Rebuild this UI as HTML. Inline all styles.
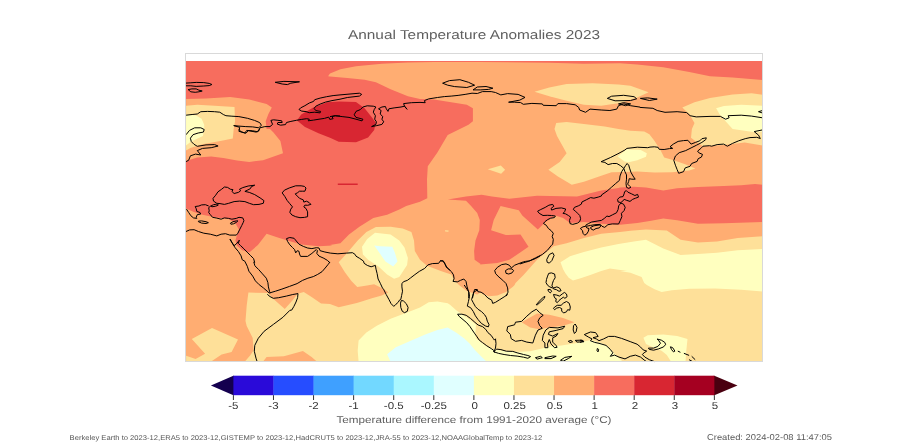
<!DOCTYPE html>
<html><head><meta charset="utf-8"><title>Annual Temperature Anomalies 2023</title>
<style>
html,body{margin:0;padding:0;background:#fff;}
body{width:924px;height:445px;overflow:hidden;position:relative;font-family:"Liberation Sans",sans-serif;}
svg{position:absolute;left:0;top:0;}
text{font-family:"Liberation Sans",sans-serif;fill:#5f5f5f;text-rendering:geometricPrecision;}
.ttl{font-size:12.9px;}
.tk{font-size:10px;fill:#333;}
.ax{font-size:9.8px;}
.ft{font-size:6.9px;fill:#555;}
.cr{font-size:8.5px;fill:#5a5a5a;}
</style></head><body>
<svg width="924" height="445" viewBox="0 0 924 445">
<rect x="186" y="61" width="576.5" height="300.5" fill="#ffad72"/>
<path d="M186 61 L762.5 61 L762.5 80 L732.6 77.6 L710 76.2 L689.3 71.9 L663.3 67.2 L637.3 64.5 L620 63.3 L583.9 63.8 L549.3 62.7 L480 62 L433.9 62 L407.9 62.4 L381.9 63.8 L356 66.2 L340.4 69.3 L330 73.6 L328.1 76.2 L330 76.6 L347.3 78 L364.6 79.7 L375.9 82.3 L390.6 89.2 L407.9 96.2 L420 99.1 L433.9 99.6 L451.2 102.2 L466.8 104.8 L472.9 108.3 L472.9 121.3 L468.5 124.7 L459.9 129.1 L447.7 135.1 L437.4 152.4 L427.8 166.2 L427 179.2 L427.3 198.3 L420 201.7 L406.2 206.1 L399.3 209.5 L387.1 214.7 L373.3 218.1 L359.4 226.8 L349 234.6 L340.4 243.2 L330 245 L332.4 245.5 L318.5 246.2 L301.2 244.4 L287.4 240.6 L277 237.2 L266.6 233.7 L257.9 245 L249.3 252.4 L242.3 250.2 L237.1 245.8 L235.4 240.6 L237.1 234.6 L238.9 229.4 L235.4 223.3 L228.5 219 L214.6 217.3 L202.5 214.7 L193.9 212.1 L186.1 208.6 L186 208.6Z" fill="#f76d5e"/>
<path d="M447.8 199.4 L466 196.5 L481.6 194.7 L491.9 196.5 L509.3 198.7 L537.1 195.7 L577 196.5 L601.2 190.5 L618.5 187.9 L620 187.5 L633.9 186.8 L646 187.4 L663.3 190.5 L677.1 188.2 L697.9 187 L723.9 186.1 L741.2 185.3 L755.1 184.1 L762.5 184.8 L762.5 221.9 L723.9 223.3 L697.9 223.7 L677.1 220.2 L663.3 218.5 L651.2 220.7 L637.3 223 L620 224.7 L601.2 223.8 L583.9 221.9 L570 223 L563.1 218.1 L555.3 215.5 L544.9 222.5 L537.8 229.4 L522.3 215.5 L518.8 210.3 L500.6 206 L493.7 219.9 L491.1 230.2 L505.8 235.1 L520.5 234.6 L528.5 246.7 L519.8 252.8 L509.4 259.7 L497.3 263.1 L480 264.5 L480.6 264 L474.6 259.7 L474.1 251 L475.5 240.6 L479.3 230.2 L479.8 219.9 L477.2 212.9 L471.1 206 L466 200.8Z" fill="#f76d5e"/>
<path d="M186.1 99.1 L206 98.4 L230.2 97 L249.3 99.6 L266.6 103.9 L271.8 107.4 L268.3 114.3 L265.7 121.3 L266.6 129.1 L270 129 L273.5 132.5 L280.4 141.1 L283 153.2 L263.1 160.2 L249.3 161.9 L237.1 160.5 L223.3 158.1 L211.2 156.4 L197.3 157.6 L186.1 161Z" fill="#ffad72"/>
<path d="M186.1 105.7 L197.3 104.8 L214.6 105.7 L234.5 107.1 L235.1 121.3 L233.7 129.1 L232.8 138.5 L221.6 140.8 L202.5 144.2 L190.4 148 L186.1 150.6Z" fill="#fee099"/>
<path d="M186.1 114.7 L195.6 115.2 L201.6 118.7 L204.2 124.7 L204.2 129.1 L202.9 135.9 L195.6 139.4 L190.4 142 L186.1 145.5Z" fill="#ffffbf"/>
<path d="M327.2 102.2 L339 101.5 L356 102 L364.6 108.3 L371.6 116.9 L375.7 122.6 L374.2 130 L368.1 137.5 L356 142.2 L338.7 141.8 L330.6 138 L318.5 133.3 L305 127 L297 120.5 L301.2 114.5 L313.3 107.4Z" fill="#d82632"/>
<path d="M337.8 183.6 L357.7 183.4 L357.7 184.9 L337.8 185.1Z" fill="#d82632"/>
<path d="M762.5 236.3 L737.7 238 L717 241.5 L697.9 242.4 L680.6 239.8 L666.8 230.6 L646 229.4 L630.4 230.8 L620 232 L601.2 233.7 L583.9 238 L566.6 243.2 L553.6 246.2 L537.1 259.7 L523.3 275.3 L515.5 283.1 L514.6 285 L512.9 286.7 L506 291.9 L497.3 295.4 L488.7 296.3 L480 292.8 L477.2 294.5 L466.8 291.1 L459 285 L454.7 280.5 L451.2 274.4 L440.8 270.9 L427 265.7 L420 259.7 L414.8 251 L414 240.6 L411.4 232 L402.7 228.5 L390.6 226.8 L375.9 227.1 L366.4 232 L357.7 240.6 L347.3 252.8 L338.7 262.3 L344.9 272.3 L351.4 281 L357.3 286.9 L365.5 285.8 L374.1 284.2 L380.6 287.5 L388.2 292.3 L381.7 295.6 L371.9 298.3 L363.3 301 L356.8 303.1 L338.7 307.2 L330 304 L321.1 303.4 L311.6 296.9 L303.8 292 L297.7 293.7 L292.6 300.3 L284.8 309 L272.6 298.2 L268.3 293 L248.4 292.5 L246.7 305.5 L245.5 321.1 L246.7 326 L252.7 338.1 L253.6 350.2 L250.1 355.4 L244.9 361.5 L762.5 361.5Z" fill="#fee099"/>
<path d="M263.1 361.6 L266.6 357.1 L283.9 356.3 L302.9 351.1 L311.6 357.1 L316.8 361.6Z" fill="#ffad72"/>
<path d="M521.6 322.2 L537.1 313.6 L549.3 314.8 L563.1 317.9 L574.4 322.2 L563.1 325.7 L549.3 327.4 L538.9 329.2 L530.2 327.4Z" fill="#ffad72"/>
<path d="M191.8 339 L212 328.1 L238 339.5 L231.6 351.9 L221.6 354.5 L211.2 361.6 L186.1 361.6 L186.1 355.8 L195.6 358.9 L205.1 353.7Z" fill="#fee099"/>
<path d="M362 246.7 L367.2 238.9 L375 232.8 L390.6 234.6 L399.3 240.6 L404.5 247.6 L407.9 257.9 L407.1 264.9 L402.7 271.8 L399.3 277 L394.1 278.7 L387.1 274.4 L378.5 266.6 L368.1 259.7 L362.9 254.5Z" fill="#ffffbf"/>
<path d="M374.2 245.5 L380.2 246.2 L392.3 246.7 L394.9 252.8 L397.5 261.4 L393.2 266.6 L385.4 261.4 L379.4 252.8Z" fill="#e0ffff"/>
<path d="M560.5 262.3 L570 256.2 L583.9 251.9 L601.2 247.6 L618.5 244.1 L620 243.7 L633.9 241.5 L646 239.8 L663.3 248.4 L680.6 255 L697.9 254.1 L717 252.8 L737.7 250.2 L762.5 248.9 L762.5 291.6 L741.2 289.8 L715.2 288.5 L689.3 288.8 L671.9 290.2 L661.6 291.9 L654.6 289.3 L646.8 285 L644.2 283.1 L641.6 277 L630.4 272.7 L620 270.9 L627.2 270.9 L609.9 268.5 L601.2 271.1 L590.3 274.9 L580.6 278.2 L573 280.5 L568.7 277.7 L565.5 273.4 L563.1 269.2Z" fill="#ffffbf"/>
<path d="M358.6 361.7 L357.7 350.8 L358.6 340.4 L366.4 332.6 L376.8 325.7 L390.6 318.8 L404.5 313.6 L420 307.5 L428.7 302.3 L437.4 301.5 L447.7 303.2 L450 304.8 L456.5 310.4 L466.2 316.9 L476 324.5 L475.4 332.8 L476 338.2 L481.4 342.6 L486.8 346.4 L493.3 349.1 L500.9 350.4 L509.5 351.2 L520.3 351.8 L530.1 351.2 L539.8 349.1 L550 346.4 L561.4 345.6 L577 343 L590.8 340.1 L601.2 343 L608.1 346.5 L613.3 352.5 L618.5 357.7 L622.9 361.7Z" fill="#ffffbf"/>
<path d="M387.1 354.3 L395.8 347.3 L407.9 342.1 L425.2 334.4 L437.4 330 L447.7 327.4 L456.4 332.8 L464 338.2 L469.6 343.5 L474.9 350.1 L481.3 356.5 L486.7 361.7 L390.6 361.7Z" fill="#e0ffff"/>
<path d="M643.4 337.8 L647.7 335.2 L663.3 334.4 L677.1 336.1 L687.5 339 L686.3 350.8 L685.5 361.7 L671.1 361.7 L666.8 355.1 L661.6 350.8 L652.9 347.3 L646 343.9Z" fill="#ffffbf"/>
<path d="M534.5 91.8 L549.3 87.5 L566.6 84 L592.6 83.2 L618.5 84.6 L630.4 85.8 L648.6 92.2 L637.3 97.4 L620 103.1 L601.2 105.7 L583.9 104.8 L566.6 100.8 L549.3 96.2Z" fill="#fee099"/>
<path d="M682.3 107.4 L694.5 102.2 L710 97.9 L732.6 94.4 L751.6 93.2 L762.5 94.8 L762.5 145.5 L744.7 142.5 L723.9 144.9 L703.1 146.3 L697.9 142.9 L691 137.7 L691.9 129 L694.5 123 L689.3 114.3Z" fill="#fee099"/>
<path d="M716.1 108.3 L723.9 106 L741.2 104.8 L762.5 105.7 L762.5 131.6 L756.8 132.5 L744.7 130.7 L732.6 129 L725.6 121.3 L719.6 114.3Z" fill="#ffffbf"/>
<path d="M554.5 129 L556.2 123 L566.6 122.1 L583.9 123.9 L604.7 126.5 L618.5 129 L630.4 130.8 L644.2 131.5 L649.4 134.2 L654.6 141.1 L660.7 150.6 L664.2 157.6 L673.7 160.2 L685.8 164.5 L695.3 168.5 L689.3 170.6 L672 172.3 L654.6 172.6 L637.3 171.4 L623.7 171.9 L611.6 172.3 L601.2 175.8 L583.9 181.8 L571.8 184.8 L557.9 176.6 L548.4 169.7 L559.7 161.9 L566.6 153.2 L562.3 145.5 L557 135.9Z" fill="#fee099"/>
<path d="M617.7 156.4 L627.2 148.9 L630.4 149.4 L640.8 150.1 L646.8 153.2 L646 156.7 L637.3 160.2 L628.7 162.2 L624.6 161.6Z" fill="#ffffbf"/>
<path d="M487.8 169.2 L500.8 165.4 L505.1 169.7 L501.1 173.7Z" fill="#fee099"/>
<path d="M445 230.2 L448.6 230.4 L448.4 231.8 L445.2 231.6Z" fill="#fee099"/>
<path d="M186 83.1 L190.8 82.8 L196.2 82.4 L203.8 82.6 L209.2 83.4 L211.9 84.5 L209.2 85.6 L203.8 86 L196.2 86.4 L190.8 85.8 L186 85.8 M188.1 89.6 L191.9 88.9 L196.2 88.9 L198.9 90.2 L202.2 91 L198.9 91.8 L195.2 92.3 L190.8 91.8Z M275.2 82.3 L283.9 81.4 L299.5 81.8 L290.8 83.2 L287.4 84.6 L282.2 84Z M340 94.9 L333.1 95.6 L326.6 96.7 L320.1 98.1 L314.7 99.7 L313.6 101.4 L309.3 103 L304.9 105.7 L300.6 107.9 L299 109.5 L301.7 111.1 L306 111.6 L309.3 112.7 L314.7 112.2 L320.1 112.9 L320.6 111.4 L315.8 110.6 L314.1 108.4 L315.8 106.2 L320.1 104.1 L325.5 102.1 L332 100.6 L340 99.2 M340 94.9 L359.4 93.2 L361.7 94.4 L359.4 96.1 L347.3 97.5 L340 99.2 M186.1 115.2 L192.1 114.5 L197.3 114 L200.8 111.7 L207.7 111.4 L214.6 111.7 L219.8 112.2 L223.3 114.5 L225.9 115.7 L231.9 116.2 L238.9 116.6 L247.5 118.3 L254.5 120.4 L259.7 122.6 L261.4 125.2 L258.8 127.8 L252.7 126.9 L245.8 126.6 L238.9 126.1 L233.7 125.6 L239.7 127.3 L238.9 131.3 L244.9 133 L246.7 130.4 L252.7 130.8 L257.9 131.8 L260 127.8 L264.8 126.6 L270 126.6 L272.6 124.4 L270.9 120.4 L273.5 119.8 L277.9 120.3 L281.7 120.8 L282.2 122.5 L277.9 122.5 L277.3 124.1 L280.6 125.2 L285.5 124.6 L286.5 122.5 L290.9 121.4 L296.3 120.3 L301.7 119.4 L306.6 118.7 L309.3 119.2 L308.2 120.8 L313.6 120.1 L319 119.2 L324.4 118.4 L328.7 117.1 L329.8 119.4 L333.1 118.7 L332 116.5 L335.2 115.8 L340 116 M330 116.6 L335.2 115.7 L342.1 116.6 L349 117.4 L356 119.2 L362 120.9 L362.9 119.2 L356 117.4 L354.2 114.8 L356 111.4 L360.3 109.6 L362.9 107 L367.2 105.8 L373.3 106.2 L375.9 107 L374.2 109.6 L373.3 112.2 L375.4 115.7 L374.7 119.2 L376.4 121.8 L375.9 124.4 L371.6 126.6 L376.8 125.6 L381.9 124.4 L383.7 121.8 L381.9 119.2 L382.8 116.6 L380.2 114 L381.1 110.5 L378.5 108.8 L381.9 107 L385.4 106.5 L386.3 108.8 L388 111.4 L388.9 108.8 L394.1 107.9 L401 107 L404.5 106.2 L407.1 109.3 L404.5 106.2 L403.6 103.6 L411.4 102.7 L420 102.4 L425.2 102.7 L424.4 100.6 L428.7 98.9 L437.4 97.5 L444.3 96.6 L451.2 96.1 L458.1 95.4 L465.1 94.4 L472 93.2 L477.3 93.5 L482.5 91.6 L491.2 91.6 L495.5 92.5 L500.8 94.9 L507.7 93.6 L518.1 94.4 L525 97.4 L519.8 100.1 L508.6 102.2 L514.6 102.2 L520.7 102.6 L523.3 104.3 L531.9 103.4 L542.3 103.9 L543.2 105.3 L556.2 105.7 L557.9 103.6 L566.6 103.6 L575.2 104.8 L578.7 107.4 L579.6 110 L585.6 112.3 L590 109.1 L601.2 110 L609.9 110.5 L616.8 109.1 L618.5 105.7 L623.7 103.9 L630.6 105.7 L640 107.1 M473 89.9 L477.3 87 L486 86.5 L492.9 88.2 L488.6 89.4 L480.8 89.9Z M442.6 83.2 L449.5 80.6 L459.9 79.7 L468.5 82.3 L474.6 85.2 L466.8 87.5 L454.7 86.6 L447.7 85.2Z M607.3 98.4 L611.6 96.2 L623.7 95.3 L634.1 96.7 L636.7 98.8 L630.6 100.5 L615.1 100.8Z M618.5 103.9 L623.7 102.7 L630.6 103.9 L625.5 105.7Z M639.9 107.4 L652.9 108.3 L657.2 110.5 L665 112.3 L677.1 111.7 L686.7 112.6 L690.1 115.7 L696.2 116.9 L710 116.4 L720.4 116.4 L725.6 119.2 L729.1 117.8 L728.2 115.7 L741.2 115.2 L751.6 116.1 L762.5 117.8 M640.4 98.4 L647.7 97.9 L657.2 99.1 L649.4 100.5Z M762.5 110.5 L758.5 111.7 L762.5 113 M186.1 134.7 L189.5 130.4 L194.7 127.8 L200.8 127.8 L204.2 129.5 L203.4 132.1 L198.2 133 L193 134.7 L190.4 138.2 L191.3 141.6 L193.9 144.2 L197.3 146.3 L206 144.9 L214.6 144.6 L218.1 146 L211.2 147.7 L202.5 148.4 L197.3 150.6 L200.8 155 L195.6 154.1 L190.4 155.8 L188.7 160.2 L186.1 161.6 M238.9 129 L240.6 131.6 L245.8 133.3 L248.4 130.7 L256.2 132.1 L259.7 129.9 L258.8 129 M213.5 201.1 L213 198.4 L215.7 195.2 L217.9 191.9 L221.7 189.2 L224.4 187 L227.6 187.4 L230.3 189.2 L233 189.7 L231.9 191.4 L234.1 193.5 L238.4 192.4 L240.6 190.8 L239.5 189.2 L242.8 187.6 L248.2 186 L254.7 185.2 L251.4 186.7 L250.3 188.7 L247.1 190.3 L244.9 191.4 L249.3 192.4 L254.7 194.6 L260.1 197.9 L263.9 200.6 L263.3 203.3 L259 204.4 L253.6 204.7 L249.3 203.3 L244.9 201.6 L239.5 201.1 L234.1 201.6 L228.7 203.3 L224.4 204.4 L220 203.6 L216.8 203.3Z M210.8 206 L213.5 204.7 L217.3 204 L218.4 205.1 L215.7 206.2 L211.9 206.8Z M210.8 206 L208.7 207.6 L209.2 210.8 L208.7 212.5 L210.3 214.6 L212.5 217.3 L216.8 218.1 L221.1 219.2 L224.4 217.9 L228.7 218.4 L231.9 219.2 L236.3 218.4 L239 217.3 L242.8 217.9 L243.9 220.6 L243.3 222.3 L241.7 225.6 L239.5 229.9 L237.9 233.2 L236.3 235.1 M208.7 206 L205.4 204.7 L201.6 204.9 L198.9 206 L195.2 206.5 L196.2 208.7 L196.8 211.4 L200 212.5 L200.6 214.1 L197.3 214.6 L196.2 217.3 L196.8 218.4 L193.5 217.9 L190.8 215.7 L188.7 212.5 L186.5 209.2 M198.4 221.1 L201.6 220.9 L206 221.7 L208.4 222.7 L206 223.5 L201.6 223.1 L198.4 221.7Z M230.3 223.3 L233 221.7 L236.3 220.9 L237.9 220.9 L236.3 222.4 L233.6 223.8 L230.9 224.2Z M186 231.5 L189.7 229.9 L194.1 229.7 L198.4 231.5 L203.8 233.2 L210.3 234.2 L216.8 235.9 L221.1 234.2 L225.5 233.7 L229.8 235.1 L236.3 235.1 M230 239.1 L231.9 242.4 L234.1 245.6 L236.3 244 L238.4 241.3 L239.3 240.2 L238.4 243.4 L240.6 245.6 L243.9 248.8 L247.1 252.1 L250.3 255.3 L253.6 258.6 L254.7 262.4 L253.8 262 L254.9 265.8 L258.7 269.6 L262.5 273.9 L266.3 278.2 L267.9 282.6 L268.4 286.9 L269.5 291.2 L270 293.2 M230 239.1 L233 244.5 L235.2 247.8 L238.4 251.5 L241.1 255.9 L242.2 259.7 L244.9 261.3 L245.2 262 L247.3 266.3 L248.9 271.2 L252.7 276.1 L255.4 280.9 L259.2 284.7 L263.5 288 L267.9 291.8 L269.5 293.4 M267.3 294.3 L270 296.6 L273.3 298.3 L278.7 297.7 L286.3 296.1 L292.8 294.5 L298 293.6 L297.6 297.7 L296 302 L293.9 306.4 L291.7 310.1 L289.9 310.3 L282.9 317.3 L273.5 324.3 L264.1 331.3 L258.3 338.3 L254.8 345.3 L254.3 351.2 L256 358.2 L257.1 361.5 M282.2 192.9 L284.4 190.2 L289.2 188 L295.7 185.8 L301.1 185.8 L304.4 186.4 L306 188 L304.9 191.2 L302.7 191.2 L299.5 191.2 L297.3 192.9 L295.2 193.9 L297.3 196.1 L299.5 198.3 L303.3 199.9 L303.8 202.1 L306.5 201.2 L309.2 202.6 L310.9 204.4 L307.6 205.3 L304.9 205.1 L303.8 206.9 L306 208.5 L307.6 211.8 L307.6 216.7 L304.4 217.4 L300 217.7 L295.7 216.7 L291.9 215 L289.8 212.3 L290.8 209.1 L292.5 206.9 L289.8 203.7 L287.1 200.4 L284.9 196.6Z M286.5 238.6 L289.8 237.5 L294.1 238.3 L296.3 241 L299 244.2 L303.3 246.4 L307.6 248 L311.9 248.6 L316.3 247.7 L319 248 L320.1 250.7 L324.9 252 L330.3 253.1 L337.9 253.8 L346.6 253.1 L352.5 252.7 L355.2 254.5 L356 256.2 L359.7 258.4 L363.5 261.1 L364.1 263.3 L367.3 265.4 L371.1 266.8 L375.4 265.4 L376 269.2 L377.1 273.5 L378.1 279 L380.3 283.3 L382.5 288.1 L383.5 289.1 L386.2 294.5 L388.9 299.4 L391.1 303.7 L393.8 306.4 L396 304.2 L398.4 302.1 L399.2 300.4 L400.8 299.4 L401.6 295.6 L402.5 291.2 L401.9 286.9 L401.9 283.7 L403.5 281.7 L407.3 280.4 L410.6 277.9 L414.9 274.6 L419.3 271.4 L424.7 268.4 L427.9 264.9 L432.3 263.6 L438.7 263.3 L440.4 260.8 L443.1 261.1 L445.2 264.4 L447.4 268.1 L450 270.3 M286.5 238.6 L287.6 241.5 L289.8 244.8 L292.5 247.5 L294.6 249.6 L295.7 252.9 L297.3 250.7 L299 251.3 L299.5 254 L300.6 256.4 L307.6 256.4 L311.9 253.4 L316.3 249.6 L317.4 250.7 L316.8 253.4 L319 256.1 L323.9 258.3 L327.6 260.5 L329.3 262.4 L330 262 L327.9 264.7 L325.2 268 L322 271.7 L317.7 274.4 L313.3 276.6 L307.9 278.2 L302.5 280.4 L297.1 283.6 L289.5 286.4 L281.9 289.1 L275.5 291.2 L270 292.8 M401.4 300.4 L403.5 301 L406.3 303.7 L408.1 307.5 L407.3 311.3 L404.6 312.7 L402.3 311.3 L400.8 307.5 L400.5 303.1Z M440 260.8 L443.2 260.8 L444.9 263.5 L446 266.8 L449.2 269.5 L451.4 271.6 L453.5 274.9 L454.1 278.7 L453 281.4 L457.3 281.9 L460.6 280.3 L463.8 279 L466 281.4 L467.1 286.8 L468.7 292.2 L468.7 298.1 M472.5 298.1 L473.5 293.3 L474.6 289.5 L477.3 289.5 L477.9 291.7 L481.1 292.2 L484.4 294.4 L487.9 298 L491.7 300.1 L492.7 303.4 L495.5 302.3 L499.8 299.6 L504.1 296.9 L507.4 294.7 L506 296 M506 296 L508 292.2 L507.6 287.9 L506 283.5 L502.8 280.3 L499 277.1 L495.7 273.8 L494.7 270.6 L497.4 267.3 L501.7 264.6 L506 263.9 L509.3 265.2 L511.4 267.9 L514.7 265.2 L519 263.5 L523.3 261.9 L525.5 261.4 L529.8 260.8 L535.2 258.7 L540 256 M505.5 270.6 L508.2 268.9 L512 268.9 L513.6 270.6 L512 272.9 L508.7 274 L506 273.3Z M464.2 285 L468.9 292 L469.5 296.3 L468.4 301.7 L467.3 306.1 L470.6 307.7 L473.3 311.5 L475.4 315.8 L478.1 319.6 L481.4 323.4 L485.7 326.1 L488.4 326.8 L489 324.5 L487.3 321.2 L486.3 317.4 L484.6 314.7 L481.4 311.5 L478.1 309.3 L475.4 306.6 L473.3 302.8 L471.6 299.6 L472.7 295.8 L473.8 292 L477.2 290.2 M494.4 340.1 L493.3 338.5 L491.1 335.3 L487.9 332.6 L485.7 329.3 L482.5 326.6 L478.1 325 L474.9 322.3 L470.6 318.5 L466.2 315.3 L461.9 314.2 L457.6 314.2 L459.2 316.4 L463 319.6 L466.8 322.8 L470 326.6 L472.2 329.9 L474.4 333.1 L477.1 336.9 L479.2 340.1 L482.5 342.6 L486.8 345.8 L491.1 348.5 L493.8 350.4 L494.4 352.3 L493.8 351.8 L495.5 348 L496 343.6 L495.5 338.8Z M601.4 196 L598.2 197.1 L593.9 198.2 L590.6 197.6 L586.3 199.8 L581.9 202 L581.4 204.1 L578.7 205.7 L574.4 207.4 L573.3 209.5 L575.5 211.2 L577.6 213.3 L579.8 215.5 L580.6 218.7 L579.8 221.4 L577.6 223.1 L572.7 224.4 L570 223.6 L569.5 220.4 L570.6 217.1 L568.4 215.5 L565.7 213.9 L563 213.3 L564.6 211.7 L565.7 209 L561.4 207.9 L556 208.4 L551.6 210.1 L551.1 208.4 L553.8 206.3 L552.7 204.4 L548.9 205.2 L545.2 207.4 L540.8 209.5 L537.6 211.2 L539.2 213.3 L543 215.5 L547.3 215.3 L551.6 215.5 L555.4 216 L554.4 217.6 L550.6 218.2 L547.3 219.8 L544.6 222 L543.5 223.6 L546.2 225.2 L548.4 228.5 L551.1 230.6 L553.3 233.3 L552.2 236.6 L553.3 239.3 L552.7 244.1 L551 245.8 L547.5 250.2 L542.3 254.5 L535.4 257.9 L528.5 261.4 L525 262.3 L519.8 264 M580.3 228.5 L583 226.8 L585.7 226.3 L586.8 227.9 L589 228.5 L588.4 231.2 L586.8 233.9 L584.7 235.2 L583 233.3 L582.5 230.6Z M590.6 227.4 L593.9 225.8 L599.3 225 L600.9 225.8 L599.3 227.9 L596 228.5 L593.3 230.1 L591.1 229Z M585.7 225.2 L588.4 223.6 L591.7 222 L597.1 221.1 L601.4 220.4 L604.7 218.2 L606.8 216 L609 216.6 L612.3 214.9 L616.5 212.8 L618.1 209.5 L618.7 205.8 L620.8 203.1 L623.5 204.1 L625.2 207.4 L624.1 210.6 L621.4 213.3 L621.9 216.6 L620.3 220.4 L618.6 224 L612.3 223.9 L607.9 224.7 L604.7 227.4 L602 226.3 L600.3 224.4 L594.9 224.7 L590.6 225.4 L586.3 226.3Z M626.3 190.6 L627.9 192.2 L631.7 193.9 L634.9 195.5 L637.6 194.4 L638.5 197.1 L635.5 198.2 L632.7 199.3 L630 201.4 L626.8 200.4 L624.1 199.3 L622.5 201.4 L620.8 202.5 L618.1 202 L617.6 199.3 L619.8 197.1 L623 196.6 L624.1 193.9 L624.6 191.7Z M546.7 259.7 L549.3 254.5 L552.7 252.8 L554.1 255.4 L551.9 260.5 L549.3 263.1 L547.2 262.3Z M601.4 196 L601.6 194.9 L607.1 191.1 L611.4 187.3 L615.7 183.5 L619.5 180.3 L620 176 L621.7 171.6 L623.8 168.4 L620.6 165.7 L616.8 163.5 L612.5 163.5 L608.1 164.6 L604.9 162.4 L601.1 161.7 L610.3 157.6 L617.9 153.8 L624.9 150 L626.9 148.4 L637.3 147.2 L647.7 147.7 L650 147.1 L654.3 146.8 L658.1 147.3 L659.2 149.3 L664.1 149.5 L669.5 148.6 L672.7 148.4 L670 146.8 L673.3 144.1 L678.1 141.4 L683.5 140.6 L687.9 140.3 L691.1 144.1 L695.5 142.4 L699.8 140.8 L701.9 138.7 L706.3 137.8 L705.7 139.7 L701.9 142.4 L696.5 145.2 L691.1 147.9 L685.7 150.6 L679.2 152.7 L675.4 156 L673.8 160.3 L675.4 165.2 L677.1 169.5 L678.7 173.3 L683.5 171.7 L685.2 167.9 L690 166.3 L691.7 163.5 L697.1 161.4 L698.2 158.7 L701.4 157.1 L702.5 154.4 L698.7 152.7 L697.6 151.1 L700.9 148.4 L703 146.2 L709.5 145.7 L711.7 146.2 L717.1 144.6 L723.6 144.1 L727.4 146.2 L732.3 143.5 L738.7 140.8 L745.2 138.7 L750 137.6 L756.8 137.3 L760.3 138.5 L758.5 135.1 L754.2 131.6 L762.5 129.9 M623.8 168.4 L625.5 165.7 L627.1 163.5 L628.7 165.2 L629.8 168.9 L630.9 172.2 L633 176 L635.2 179.2 L631.9 179.2 L629.2 178.7 L628.7 181.4 L627.6 184.1 L629.8 186.3 L630.9 187.3 L628.7 188.4 L626.5 187.3 L626 183.5 L626.5 179.2 L626.5 174.9 L624.9 171.6Z M493.8 351.8 L496.5 349.1 L500.9 349.6 L506.3 351.2 L512.8 351.4 L517.1 352.8 L523.6 354.5 L527.9 355.5 L530.6 356.6 L527.9 358.3 L523.6 357.2 L517.1 356.1 L510.6 355.5 L504.1 354.5 L498.7 353.4Z M536.3 309.2 L539.7 312.7 L543.2 315.3 L539.7 317.9 L538 321.4 L539.7 325.7 L542.3 328.3 L538 330 L535.4 335.2 L532.8 343 L526.8 342.1 L521.6 340.4 L515.5 341.3 L511.2 338.7 L510.3 334.4 L506.8 330.9 L507.7 326.6 L514.6 324.8 L515.5 322.2 L521.6 321.4 L526.8 316.2 L531.9 311.8Z M545.8 330 L549.3 327.4 L557.9 327.9 L564.8 326.2 L563.1 328.6 L556.2 330.4 L549.3 331.8 L548.4 334.4 L552.7 336.1 L557.9 333.5 L556.2 336.1 L552.7 337.8 L552.7 342.1 L556.2 345.6 L557.1 347.3 L554.5 347.7 L551 343.9 L549.3 339.5 L547.5 343.9 L547.9 347.7 L544.9 347.7 L544.9 343 L542.3 340.4 L543.2 335.2Z M548.7 273.4 L551.4 272.9 L554.6 274 L555.2 277.7 L553.5 280.4 L552.5 283.2 L551.9 285.9 L553.5 288 L556.8 286.9 L559.5 288 L561.1 290.7 L559 291.3 L556.3 289.6 L554.1 289.1 L552.5 288 L549.8 286.9 L547.6 285.3 L546 282.6 L546.5 279.4 L547.6 276.1Z M547.9 289.6 L550.3 289.4 L551.6 291.3 L550.3 292.9 L548.4 291.3Z M553.5 294.5 L556.8 295.1 L559.5 296.1 L562.2 294 L564.4 292.4 L566.5 294 L567.1 296.7 L564.9 298.3 L563.3 297.2 L561.1 298.8 L559 300.5 L557.3 302.6 L555.7 301.5 L556.3 298.8 L554.6 297.8Z M554.6 307 L557.3 305.3 L561.1 305.3 L563.3 303.2 L566.5 301.5 L569.2 303.2 L570.3 307 L569.8 310.2 L567.6 309.7 L566.5 311.8 L563.8 312.9 L561.7 311.3 L561.7 308.6 L559.5 307.5 L556.8 308 L554.6 309.7 L553.5 308.6Z M536.2 304.8 L539.5 301 L543.3 297.2 L544.9 296.4 L544.4 298.3 L541.1 301.5 L537.3 304.8Z M573.5 325.7 L575.2 324 L577 327.4 L576.1 331.8 L574.4 333.5 L573.2 330Z M646.7 361.6 L644.9 360.6 L640.6 357.1 L635.4 355.1 L630.2 356.3 L625 358.9 L619 357.1 L614.6 355.1 L610.3 356.3 L612.9 352.8 L610.3 349.4 L606 345.4 L599 343.3 L594.7 342.4 L590.4 340.7 L592.1 339 L588.7 337.2 L584.3 334.6 L590.4 332 L595.6 332.6 L598.2 336.4 L593 337.7 L596.5 339 L599 340.7 L603.4 339 L608.6 336.4 L614.6 336.4 L621.6 338.4 L630.2 341.6 L637.1 344.2 L640.6 347.1 L643.2 349.9 L646.7 351.1 L644.1 352.8 L642.3 354.5 L644.9 357.1 L649.3 359.7 L654.5 361.6 M657.1 339 L661.4 340.2 L664.8 342.4 L665.7 344.7 L663.1 347.1 L658.8 348.8 L653.6 350.2 L649.3 349.4 L648.4 348.1 L653.6 348.1 L657.9 346.4 L660.5 343.3 L658.8 340.7Z M670.4 346.8 L672.6 347.6 L674.9 351.1 L673.5 351.9 L671.4 349.4Z M677.8 351.1 L680.4 352.3 M683.9 353.3 L689.1 355.4 M691.7 356.3 L695.2 359.7 M689.1 359.7 L692.6 361.6 M580 340.2 L583.5 341.2 L580 342.4 M597.3 348.5 L598.7 349.4 L598 351.9 L597 350.6Z M568.3 341.3 L570.9 340.4 L572.6 341.8 L570 342.5Z M575.2 340.4 L582.2 340.1 L583.9 341.8 L577 342.1Z M535.4 357.7 L540.6 356.3 L542.3 357.7 L537.1 359.1Z M544.9 357.7 L552.7 356 L556.2 356.3 L551 358.6 L544.9 358.6Z M560.5 360.3 L564.8 357.4 L571.8 356.3 L568.3 358.6 L563.1 361.2Z" fill="none" stroke="#000" stroke-width="1" stroke-linejoin="round"/>
<rect x="185.5" y="53.5" width="577" height="308" fill="none" stroke="#d9d9d9" stroke-width="1"/>
<path d="M234.0 375.7 L233.4 375.7 L210.9 385.45 L233.4 395.2 L234.0 395.2Z" fill="#14004f"/>
<path d="M713.76 375.7 L714.36 375.7 L737.5 385.45 L714.36 395.2 L713.76 395.2Z" fill="#4a0010"/>
<rect x="233.40" y="375.7" width="40.38" height="19.5" fill="#2a0ad9"/>
<rect x="273.48" y="375.7" width="40.38" height="19.5" fill="#264dff"/>
<rect x="313.56" y="375.7" width="40.38" height="19.5" fill="#3fa0ff"/>
<rect x="353.64" y="375.7" width="40.38" height="19.5" fill="#72d8ff"/>
<rect x="393.72" y="375.7" width="40.38" height="19.5" fill="#aaf7ff"/>
<rect x="433.80" y="375.7" width="40.38" height="19.5" fill="#e0ffff"/>
<rect x="473.88" y="375.7" width="40.38" height="19.5" fill="#ffffbf"/>
<rect x="513.96" y="375.7" width="40.38" height="19.5" fill="#fee099"/>
<rect x="554.04" y="375.7" width="40.38" height="19.5" fill="#ffad72"/>
<rect x="594.12" y="375.7" width="40.38" height="19.5" fill="#f76d5e"/>
<rect x="634.20" y="375.7" width="40.38" height="19.5" fill="#d82632"/>
<rect x="674.28" y="375.7" width="40.08" height="19.5" fill="#a50021"/>
<path d="M233.40 395.2 v4.8" stroke="#333" stroke-width="1"/>
<text transform="translate(233.40,409.45) scale(1.15,1)" x="0" y="0" text-anchor="middle" class="tk">-5</text>
<path d="M273.48 395.2 v4.8" stroke="#333" stroke-width="1"/>
<text transform="translate(273.48,409.45) scale(1.15,1)" x="0" y="0" text-anchor="middle" class="tk">-3</text>
<path d="M313.56 395.2 v4.8" stroke="#333" stroke-width="1"/>
<text transform="translate(313.56,409.45) scale(1.15,1)" x="0" y="0" text-anchor="middle" class="tk">-2</text>
<path d="M353.64 395.2 v4.8" stroke="#333" stroke-width="1"/>
<text transform="translate(353.64,409.45) scale(1.15,1)" x="0" y="0" text-anchor="middle" class="tk">-1</text>
<path d="M393.72 395.2 v4.8" stroke="#333" stroke-width="1"/>
<text transform="translate(393.72,409.45) scale(1.15,1)" x="0" y="0" text-anchor="middle" class="tk">-0.5</text>
<path d="M433.80 395.2 v4.8" stroke="#333" stroke-width="1"/>
<text transform="translate(433.80,409.45) scale(1.15,1)" x="0" y="0" text-anchor="middle" class="tk">-0.25</text>
<path d="M473.88 395.2 v4.8" stroke="#333" stroke-width="1"/>
<text transform="translate(474.58,409.45) scale(1.15,1)" x="0" y="0" text-anchor="middle" class="tk">0</text>
<path d="M513.96 395.2 v4.8" stroke="#333" stroke-width="1"/>
<text transform="translate(514.66,409.45) scale(1.15,1)" x="0" y="0" text-anchor="middle" class="tk">0.25</text>
<path d="M554.04 395.2 v4.8" stroke="#333" stroke-width="1"/>
<text transform="translate(554.74,409.45) scale(1.15,1)" x="0" y="0" text-anchor="middle" class="tk">0.5</text>
<path d="M594.12 395.2 v4.8" stroke="#333" stroke-width="1"/>
<text transform="translate(594.82,409.45) scale(1.15,1)" x="0" y="0" text-anchor="middle" class="tk">1</text>
<path d="M634.20 395.2 v4.8" stroke="#333" stroke-width="1"/>
<text transform="translate(634.90,409.45) scale(1.15,1)" x="0" y="0" text-anchor="middle" class="tk">2</text>
<path d="M674.28 395.2 v4.8" stroke="#333" stroke-width="1"/>
<text transform="translate(674.98,409.45) scale(1.15,1)" x="0" y="0" text-anchor="middle" class="tk">3</text>
<path d="M714.36 395.2 v4.8" stroke="#333" stroke-width="1"/>
<text transform="translate(715.06,409.45) scale(1.15,1)" x="0" y="0" text-anchor="middle" class="tk">5</text>
<text x="474" y="39.2" text-anchor="middle" class="ttl" textLength="252" lengthAdjust="spacingAndGlyphs">Annual Temperature Anomalies 2023</text>
<text x="474" y="423" text-anchor="middle" class="ax" textLength="275" lengthAdjust="spacingAndGlyphs">Temperature difference from 1991-2020 average (°C)</text>
<text x="69.6" y="440" class="ft" textLength="472.6" lengthAdjust="spacingAndGlyphs">Berkeley Earth to 2023-12,ERA5 to 2023-12,GISTEMP to 2023-12,HadCRUT5 to 2023-12,JRA-55 to 2023-12,NOAAGlobalTemp to 2023-12</text>
<text x="707" y="439.6" class="cr" textLength="125" lengthAdjust="spacingAndGlyphs">Created: 2024-02-08 11:47:05</text>
</svg>
</body></html>
